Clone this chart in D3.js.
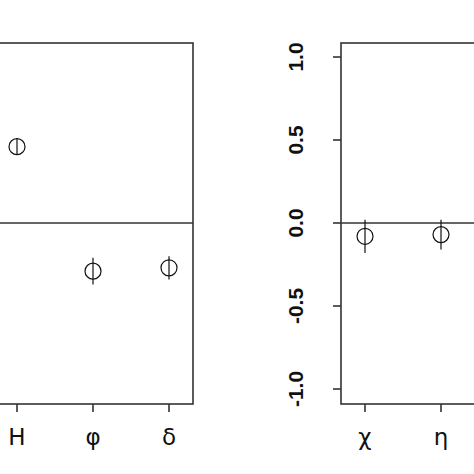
<!DOCTYPE html>
<meta charset="utf-8">
<style>
body { margin: 0; background: #fff; }
line, rect { fill: none; stroke: #333; stroke-width: 1.6; }
.pt { fill: none; stroke: #111; stroke-width: 1.2; }
</style>
<body>
<script src="https://d3js.org/d3.v7.min.js"></script>
<script>

var width = 474, height = 474;

// left panel (its first category and y axis fall outside the crop)
var leftCats = ["H", "\u03C6", "\u03B4"];
var leftVals = [0.46, -0.29, -0.27];
var leftErr  = [0.05, 0.08, 0.07];

// right panel
var rightCats = ["\u03C7", "\u03B7"];
var rightVals = [-0.08, -0.07];
var rightErr  = [0.10, 0.09];

var yTicks = [-1.0, -0.5, 0.0, 0.5, 1.0];

var boxTop = 43, boxBottom = 404;
var y = d3.scaleLinear().domain([-1, 1]).range([389, 57]);

var svg = d3.select("body").append("svg")
    .attr("width", width)
    .attr("height", height);

function panel(x0, x1, firstX, cats, vals, errs, withAxis) {
  var x = d3.scaleLinear().domain([0, 1]).range([firstX, firstX + 76]);
  var g = svg.append("g");

  g.append("rect").attr("x", x0).attr("y", boxTop)
    .attr("width", x1 - x0).attr("height", boxBottom - boxTop);
  g.append("line").attr("x1", x0).attr("x2", x1)
    .attr("y1", y(0)).attr("y2", y(0));

  cats.forEach(function(c, i) {
    var cx = x(i);
    g.append("line").attr("x1", cx).attr("x2", cx)
      .attr("y1", boxBottom).attr("y2", boxBottom + 8);
    g.append("text")
      .attr("x", cx).attr("y", 445).attr("text-anchor", "middle")
      .attr("font-family", "'DejaVu Sans', sans-serif").attr("font-size", 23)
      .attr("fill", "#111").text(c);
    g.append("line").attr("class", "pt").attr("x1", cx).attr("x2", cx)
      .attr("y1", y(vals[i] + errs[i])).attr("y2", y(vals[i] - errs[i]));
    g.append("circle").attr("class", "pt").attr("cx", cx).attr("cy", y(vals[i])).attr("r", 8);
  });

  if (withAxis) {
    yTicks.forEach(function(t) {
      g.append("line").attr("x1", x0 - 8).attr("x2", x0)
        .attr("y1", y(t)).attr("y2", y(t));
      g.append("text")
        .attr("transform", "translate(303," + y(t) + ") rotate(-90)")
        .attr("text-anchor", "middle")
        .attr("font-family", "'Liberation Sans', Arial, sans-serif")
        .attr("font-weight", "bold").attr("font-size", 21).attr("fill", "#111")
        .text(d3.format(".1f")(t).replace("\u2212", "-"));
    });
  }
}

panel(-10, 193, 17, leftCats, leftVals, leftErr, false);
panel(341, 490, 365, rightCats, rightVals, rightErr, true);

</script>
